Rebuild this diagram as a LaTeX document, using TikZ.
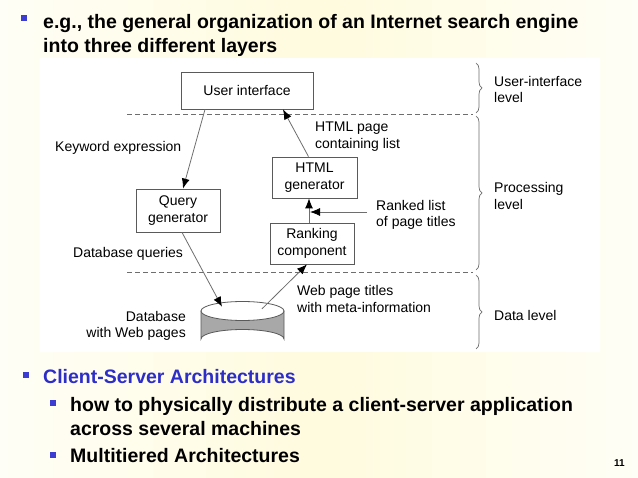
\documentclass[tikz,border=0pt]{standalone}
\usepackage{fontspec}
\setmainfont{Liberation Sans}
\usetikzlibrary{arrows.meta,decorations.pathreplacing,calc}
\definecolor{bulletblue}{RGB}{60,60,210}
\definecolor{headblue}{RGB}{45,45,200}
\definecolor{linegray}{RGB}{110,110,110}
\definecolor{boxgray}{RGB}{90,90,90}
\definecolor{bg}{RGB}{255,254,246}
\definecolor{paleyel}{RGB}{255,251,222}
\definecolor{dbgray}{RGB}{168,168,168}
\begin{document}
\begin{tikzpicture}[x=1pt,y=-1pt,
  titletext/.style={font=\fontsize{19.5}{24}\selectfont\bfseries, inner sep=0pt, anchor=base west},
  lbl/.style={font=\fontsize{14}{16.5}\selectfont, inner sep=0pt, align=left},
  box/.style={draw=boxgray, line width=0.8pt, fill=white, font=\fontsize{14}{16.5}\selectfont, align=center, inner sep=0pt},
  arr/.style={draw=linegray, line width=0.8pt, -{Latex[length=10pt,width=8pt,black]}},
  dashline/.style={draw=linegray, line width=0.7pt, dash pattern=on 5pt off 3pt},
  lvbrace/.style={draw=linegray, line width=0.7pt, decorate, decoration={brace, amplitude=6pt}},
  bulletsq/.style={fill=bulletblue, draw=none}
]
\useasboundingbox (0,0) rectangle (638,478);
\shade[left color=bg, right color=bg, middle color=paleyel] (0,0) rectangle (638,478);
\fill[white] (40,58) rectangle (600,352);

% title
\fill[bulletsq] (21,15) rectangle (27,21);
\node[titletext] (t1) at (43,29) {e.g., the general organization of an Internet search engine};
\node[titletext] (t2) at (43,53) {into three different layers};

% boxes
\node[box, minimum width=132pt, minimum height=37pt] (ui) at (247,90.5) {User interface};
\node[box, minimum width=84pt, minimum height=43pt] (qg) at (178,210.5) {Query\\generator};
\node[box, minimum width=85pt, minimum height=41pt] (html) at (314.5,177.5) {HTML\\generator};
\node[box, minimum width=84pt, minimum height=41pt] (rank) at (312,243.5) {Ranking\\component};

% database cylinder
\node[minimum width=83pt, minimum height=46pt, inner sep=0pt] (db) at (242.5,325) {};
\fill[dbgray, draw=boxgray, line width=0.8pt] (201,311) -- (201,339) arc[start angle=180, end angle=360, x radius=41.5pt, y radius=-9.5pt] -- (284,311) -- cycle;
\draw[boxgray, line width=0.8pt, fill=white] (242.5,311) ellipse [x radius=41.5pt, y radius=9.5pt];

% dashed level separators
\coordinate (d1a) at (127,114); \coordinate (d1b) at (473,114);
\coordinate (d2a) at (127,272); \coordinate (d2b) at (473,272);
\draw[dashline] (d1a) -- (d1b);
\draw[dashline] (d2a) -- (d2b);

% braces
\coordinate (b1a) at (476,63);  \coordinate (b1b) at (476,113);
\coordinate (b2a) at (476,116); \coordinate (b2b) at (476,270);
\coordinate (b3a) at (476,275); \coordinate (b3b) at (476,349);
\draw[lvbrace] (b1a) -- (b1b);
\draw[lvbrace] (b2a) -- (b2b);
\draw[lvbrace] (b3a) -- (b3b);

% level labels
\node[lbl, anchor=west] (lv1) at (494,89.5) {User-interface\\level};
\node[lbl, anchor=west] (lv2) at (494,196) {Processing\\level};
\node[lbl, anchor=west] (lv3) at (494,315) {Data level};

% other labels
\node[lbl, anchor=west] (kw) at (55,148) {Keyword expression};
\node[lbl, anchor=west] (dq) at (73,254) {Database queries};
\node[lbl, anchor=west] (hp) at (315,136.5) {HTML page\\containing list};
\node[lbl, anchor=west] (rl) at (376,215) {Ranked list\\of page titles};
\node[lbl, anchor=west] (wp) at (297,299) {Web page titles\\with meta-information};
\node[lbl, anchor=east, align=right] (dbl) at (186,326) {Database\\with Web pages};

% connectors
\draw[arr] ([xshift=-42pt]ui.south) -- ([xshift=5pt]qg.north);
\draw[arr] ([xshift=-6pt]html.north) -- ([xshift=36pt]ui.south);
\draw[arr] ([xshift=-3pt]rank.north) -- ([xshift=-3pt]rank.north |- html.south);
\coordinate (rlsrc) at (367,212);
\draw[arr] (rlsrc) -- (rlsrc -| 310,0);
\draw[arr] ([xshift=4pt]qg.south) -- ([xshift=-20.5pt,yshift=-5pt]db.north);
\draw[arr] ([xshift=19.5pt,yshift=-7pt]db.north) -- ([xshift=-5pt]rank.south);

% bottom bullets
\fill[bulletsq] (23,372) rectangle (29,378);
\node[titletext, text=headblue] (c1) at (43,384) {Client-Server Architectures};
\fill[bulletsq] (50,400) rectangle (56,406);
\node[titletext] (c2) at (70,412) {how to physically distribute a client-server application};
\node[titletext] (c3) at (70,436) {across several machines};
\fill[bulletsq] (50,452) rectangle (56,458);
\node[titletext] (c4) at (70,463) {Multitiered Architectures};
\node[font=\fontsize{10}{12}\selectfont\bfseries, inner sep=0pt, anchor=base east] (pg) at (625,467) {11};
\end{tikzpicture}
\end{document}
